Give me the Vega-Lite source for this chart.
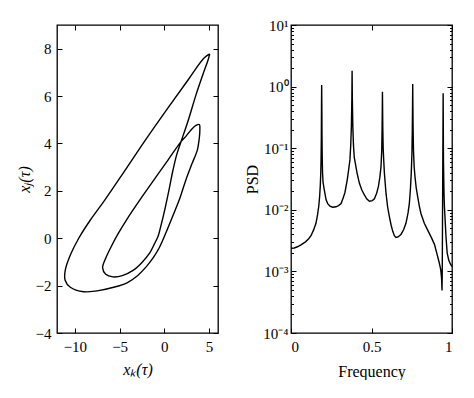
{
  "$schema": "https://vega.github.io/schema/vega-lite/v6.json",
  "background": "white",
  "padding": {"left": 15, "top": 17, "right": 0, "bottom": 0},
  "bounds": "flush",
  "spacing": 73,
  "config": {
    "view": {"stroke": "#000", "strokeWidth": 1.3},
    "font": "Liberation Serif",
    "style": {"guide-label": {"font": "Liberation Serif", "fontSize": 15, "fill": "#000"}, "guide-title": {"font": "Liberation Serif", "fontSize": 16, "fill": "#000"}},
    "axis": {"domain": false, "grid": false, "tickColor": "#000", "tickSize": -5, "tickWidth": 1, "labelFont": "Liberation Serif", "labelFontSize": 15, "labelColor": "#000", "titleFont": "Liberation Serif", "titleFontSize": 16, "titleFontWeight": "normal", "titleColor": "#000"}
  },
  "datasets": {
    "orbit": [
      {"i": 0, "x": 5.08, "y": 7.78}, {"i": 1, "x": 4.44, "y": 7.61}, {"i": 2, "x": 2.65, "y": 6.68}, {"i": 3, "x": 0.41, "y": 5.50},
      {"i": 4, "x": -2.10, "y": 4.15}, {"i": 5, "x": -4.28, "y": 2.93}, {"i": 6, "x": -6.66, "y": 1.61}, {"i": 7, "x": -8.27, "y": 0.77},
      {"i": 8, "x": -9.57, "y": 0.0}, {"i": 9, "x": -10.51, "y": -0.71}, {"i": 10, "x": -11.07, "y": -1.34}, {"i": 11, "x": -11.1, "y": -1.76},
      {"i": 12, "x": -10.51, "y": -2.07}, {"i": 13, "x": -9.01, "y": -2.26}, {"i": 14, "x": -7.52, "y": -2.22}, {"i": 15, "x": -5.66, "y": -2.07},
      {"i": 16, "x": -4.17, "y": -1.88}, {"i": 17, "x": -3.0, "y": -1.58}, {"i": 18, "x": -2.01, "y": -1.20}, {"i": 19, "x": -1.2, "y": -0.80},
      {"i": 20, "x": -0.51, "y": -0.36}, {"i": 21, "x": 0.2, "y": 0.25}, {"i": 22, "x": 0.9, "y": 0.9}, {"i": 23, "x": 1.65, "y": 1.6},
      {"i": 24, "x": 2.4, "y": 2.45}, {"i": 25, "x": 3.1, "y": 3.15}, {"i": 26, "x": 3.69, "y": 3.72}, {"i": 27, "x": 3.90, "y": 4.2},
      {"i": 28, "x": 3.97, "y": 4.55}, {"i": 29, "x": 3.91, "y": 4.80}, {"i": 30, "x": 3.54, "y": 4.76}, {"i": 31, "x": 2.99, "y": 4.57},
      {"i": 32, "x": 2.43, "y": 4.31}, {"i": 33, "x": 1.87, "y": 4.08}, {"i": 34, "x": 0.41, "y": 3.30}, {"i": 35, "x": -1.26, "y": 2.41},
      {"i": 36, "x": -2.75, "y": 1.61}, {"i": 37, "x": -4.17, "y": 0.81}, {"i": 38, "x": -5.18, "y": 0.18}, {"i": 39, "x": -5.96, "y": -0.37},
      {"i": 40, "x": -6.55, "y": -0.84}, {"i": 41, "x": -6.9, "y": -1.25}, {"i": 42, "x": -6.55, "y": -1.52}, {"i": 43, "x": -5.74, "y": -1.63},
      {"i": 44, "x": -4.7, "y": -1.58}, {"i": 45, "x": -3.5, "y": -1.36}, {"i": 46, "x": -2.5, "y": -1.02}, {"i": 47, "x": -1.63, "y": -0.62},
      {"i": 48, "x": -1.12, "y": -0.25}, {"i": 49, "x": -0.70, "y": 0.08}, {"i": 50, "x": -0.40, "y": 0.50}, {"i": 51, "x": 0.04, "y": 1.19},
      {"i": 52, "x": 0.50, "y": 2.0}, {"i": 53, "x": 0.97, "y": 2.88}, {"i": 54, "x": 1.40, "y": 3.55}, {"i": 55, "x": 1.87, "y": 4.08},
      {"i": 56, "x": 2.65, "y": 4.95}, {"i": 57, "x": 3.54, "y": 6.05}, {"i": 58, "x": 4.33, "y": 6.93}, {"i": 59, "x": 4.89, "y": 7.52},
      {"i": 60, "x": 5.08, "y": 7.78}
    ],
    "psd": [
      {"f": 0, "p": 0.00237}, {"f": 0.02, "p": 0.0024}, {"f": 0.04, "p": 0.00251}, {"f": 0.062, "p": 0.00269},
      {"f": 0.09, "p": 0.00302}, {"f": 0.11, "p": 0.00339}, {"f": 0.124, "p": 0.0038}, {"f": 0.14, "p": 0.00468},
      {"f": 0.155, "p": 0.00603}, {"f": 0.165, "p": 0.00832}, {"f": 0.172, "p": 0.0112}, {"f": 0.178, "p": 0.0166},
      {"f": 0.182, "p": 0.0251}, {"f": 0.185, "p": 0.0398}, {"f": 0.187, "p": 0.0708}, {"f": 0.1885, "p": 0.158},
      {"f": 0.1895, "p": 0.501}, {"f": 0.1905, "p": 1.06}, {"f": 0.1915, "p": 0.501}, {"f": 0.1925, "p": 0.158},
      {"f": 0.194, "p": 0.0708}, {"f": 0.196, "p": 0.0398}, {"f": 0.199, "p": 0.0282}, {"f": 0.207, "p": 0.0209},
      {"f": 0.218, "p": 0.0145}, {"f": 0.228, "p": 0.0126}, {"f": 0.242, "p": 0.0115}, {"f": 0.259, "p": 0.011},
      {"f": 0.28, "p": 0.0112}, {"f": 0.295, "p": 0.0117}, {"f": 0.311, "p": 0.0126}, {"f": 0.325, "p": 0.0158},
      {"f": 0.335, "p": 0.0191}, {"f": 0.342, "p": 0.024}, {"f": 0.35, "p": 0.0316}, {"f": 0.358, "p": 0.0447},
      {"f": 0.366, "p": 0.0646}, {"f": 0.371, "p": 0.112}, {"f": 0.375, "p": 0.224}, {"f": 0.378, "p": 0.631},
      {"f": 0.3795, "p": 1.81}, {"f": 0.381, "p": 0.631}, {"f": 0.384, "p": 0.224}, {"f": 0.388, "p": 0.112},
      {"f": 0.393, "p": 0.0708}, {"f": 0.4, "p": 0.0562}, {"f": 0.41, "p": 0.0398}, {"f": 0.425, "p": 0.0269},
      {"f": 0.44, "p": 0.0209}, {"f": 0.456, "p": 0.0174}, {"f": 0.47, "p": 0.0151}, {"f": 0.487, "p": 0.0138},
      {"f": 0.505, "p": 0.0141}, {"f": 0.518, "p": 0.0151}, {"f": 0.532, "p": 0.0186}, {"f": 0.543, "p": 0.024},
      {"f": 0.552, "p": 0.0339}, {"f": 0.559, "p": 0.0501}, {"f": 0.5635, "p": 0.0891}, {"f": 0.566, "p": 0.224},
      {"f": 0.5673, "p": 0.501}, {"f": 0.568, "p": 0.826}, {"f": 0.5688, "p": 0.501}, {"f": 0.57, "p": 0.224},
      {"f": 0.5725, "p": 0.1}, {"f": 0.576, "p": 0.0631}, {"f": 0.58, "p": 0.0398}, {"f": 0.59, "p": 0.0186},
      {"f": 0.6, "p": 0.0112}, {"f": 0.611, "p": 0.00776}, {"f": 0.622, "p": 0.00562}, {"f": 0.632, "p": 0.00447},
      {"f": 0.642, "p": 0.0038}, {"f": 0.652, "p": 0.00355}, {"f": 0.665, "p": 0.00363}, {"f": 0.683, "p": 0.00398},
      {"f": 0.7, "p": 0.00479}, {"f": 0.714, "p": 0.00603}, {"f": 0.727, "p": 0.00891}, {"f": 0.735, "p": 0.0126},
      {"f": 0.742, "p": 0.0224}, {"f": 0.747, "p": 0.0398}, {"f": 0.751, "p": 0.0794}, {"f": 0.7535, "p": 0.2},
      {"f": 0.755, "p": 0.501}, {"f": 0.756, "p": 1.1}, {"f": 0.757, "p": 0.501}, {"f": 0.7585, "p": 0.2},
      {"f": 0.761, "p": 0.0891}, {"f": 0.765, "p": 0.0501}, {"f": 0.77, "p": 0.0347}, {"f": 0.778, "p": 0.0224},
      {"f": 0.787, "p": 0.0162}, {"f": 0.797, "p": 0.0115}, {"f": 0.807, "p": 0.00871}, {"f": 0.828, "p": 0.00603},
      {"f": 0.849, "p": 0.00468}, {"f": 0.87, "p": 0.00363}, {"f": 0.891, "p": 0.00275}, {"f": 0.905, "p": 0.002},
      {"f": 0.92, "p": 0.00141}, {"f": 0.93, "p": 0.00107}, {"f": 0.935, "p": 0.000794}, {"f": 0.938, "p": 0.00049},
      {"f": 0.9395, "p": 0.001}, {"f": 0.941, "p": 0.00631}, {"f": 0.943, "p": 0.0631}, {"f": 0.945, "p": 0.778},
      {"f": 0.947, "p": 0.0631}, {"f": 0.95, "p": 0.02}, {"f": 0.953, "p": 0.0112}, {"f": 0.957, "p": 0.00708},
      {"f": 0.963, "p": 0.00355}, {"f": 0.97, "p": 0.002}, {"f": 0.98, "p": 0.00151}, {"f": 0.99, "p": 0.00132},
      {"f": 1.0, "p": 0.0012}
    ]
  },
  "hconcat": [
    {
      "width": 161,
      "height": 308,
      "data": {"name": "orbit"},
      "layer": [
        {
          "mark": {"type": "line", "color": "#000", "strokeWidth": 1.4, "interpolate": "catmull-rom"},
          "encoding": {
            "x": {"field": "x", "type": "quantitative", "scale": {"domain": [-12, 6], "nice": false, "zero": false},
                  "axis": {"values": [-10, -5, 0, 5], "title": "xₖ(τ)", "titleFontStyle": "italic", "labelFont": "Liberation Serif", "labelPadding": 11, "titlePadding": 7}},
            "y": {"field": "y", "type": "quantitative", "scale": {"domain": [-4, 9], "nice": false, "zero": false},
                  "axis": {"values": [-4, -2, 0, 2, 4, 6, 8], "title": "xⱼ(τ)", "titleFontStyle": "italic", "labelFont": "Liberation Serif", "labelPadding": 11, "titlePadding": 3}},
            "order": {"field": "i", "type": "quantitative"}
          }
        },
        {
          "mark": {"type": "line", "opacity": 0},
          "encoding": {
            "x": {"field": "x", "type": "quantitative", "axis": {"orient": "top", "values": [-10, -5, 0, 5], "labels": false, "title": null}},
            "y": {"field": "y", "type": "quantitative", "axis": {"orient": "right", "values": [-4, -2, 0, 2, 4, 6, 8], "labels": false, "title": null}},
            "order": {"field": "i", "type": "quantitative"}
          }
        }
      ],
      "resolve": {"axis": {"x": "independent", "y": "independent"}}
    },
    {
      "width": 161,
      "height": 308,
      "data": {"name": "psd"},
      "layer": [
        {
          "mark": {"type": "line", "color": "#000", "strokeWidth": 1.4},
          "encoding": {
            "x": {"field": "f", "type": "quantitative", "scale": {"domain": [0, 1], "nice": false, "zero": false},
                  "axis": {"values": [0, 0.5, 1], "format": "~f", "title": "Frequency", "labelFont": "Liberation Serif", "labelPadding": 11, "titlePadding": 9}},
            "y": {"field": "p", "type": "quantitative", "scale": {"type": "log", "domain": [0.0001, 10], "nice": false},
                  "axis": {"values": [0.0001, 0.001, 0.01, 0.1, 1, 10], "title": "PSD", "labelFont": "Liberation Serif", "labelPadding": 8, "titlePadding": 2,
                           "labelExpr": "datum.value > 5 ? '10¹' : datum.value > 0.5 ? '10⁰' : datum.value > 0.05 ? '10⁻¹' : datum.value > 0.005 ? '10⁻²' : datum.value > 0.0005 ? '10⁻³' : '10⁻⁴'"}}
          }
        },
        {
          "mark": {"type": "line", "opacity": 0},
          "encoding": {
            "x": {"field": "f", "type": "quantitative", "axis": {"orient": "top", "values": [0, 0.5, 1], "labels": false, "title": null}},
            "y": {"field": "p", "type": "quantitative", "axis": {"orient": "right", "values": [0.0001, 0.001, 0.01, 0.1, 1, 10], "labels": false, "title": null}}
          }
        },
        {
          "mark": {"type": "line", "opacity": 0},
          "encoding": {
            "x": {"field": "f", "type": "quantitative", "axis": null},
            "y": {"field": "p", "type": "quantitative", "axis": {"orient": "left", "tickSize": -2.5, "labels": false, "title": null,
                  "values": [0.0002, 0.0003, 0.0004, 0.0005, 0.0006, 0.0007, 0.0008, 0.0009, 0.002, 0.003, 0.004, 0.005, 0.006, 0.007, 0.008, 0.009, 0.02, 0.03, 0.04, 0.05, 0.06, 0.07, 0.08, 0.09, 0.2, 0.3, 0.4, 0.5, 0.6, 0.7, 0.8, 0.9, 2, 3, 4, 5, 6, 7, 8, 9]}}
          }
        },
        {
          "mark": {"type": "line", "opacity": 0},
          "encoding": {
            "x": {"field": "f", "type": "quantitative", "axis": null},
            "y": {"field": "p", "type": "quantitative", "axis": {"orient": "right", "tickSize": -2.5, "labels": false, "title": null,
                  "values": [0.0002, 0.0003, 0.0004, 0.0005, 0.0006, 0.0007, 0.0008, 0.0009, 0.002, 0.003, 0.004, 0.005, 0.006, 0.007, 0.008, 0.009, 0.02, 0.03, 0.04, 0.05, 0.06, 0.07, 0.08, 0.09, 0.2, 0.3, 0.4, 0.5, 0.6, 0.7, 0.8, 0.9, 2, 3, 4, 5, 6, 7, 8, 9]}}
          }
        }
      ],
      "resolve": {"axis": {"x": "independent", "y": "independent"}}
    }
  ]
}
